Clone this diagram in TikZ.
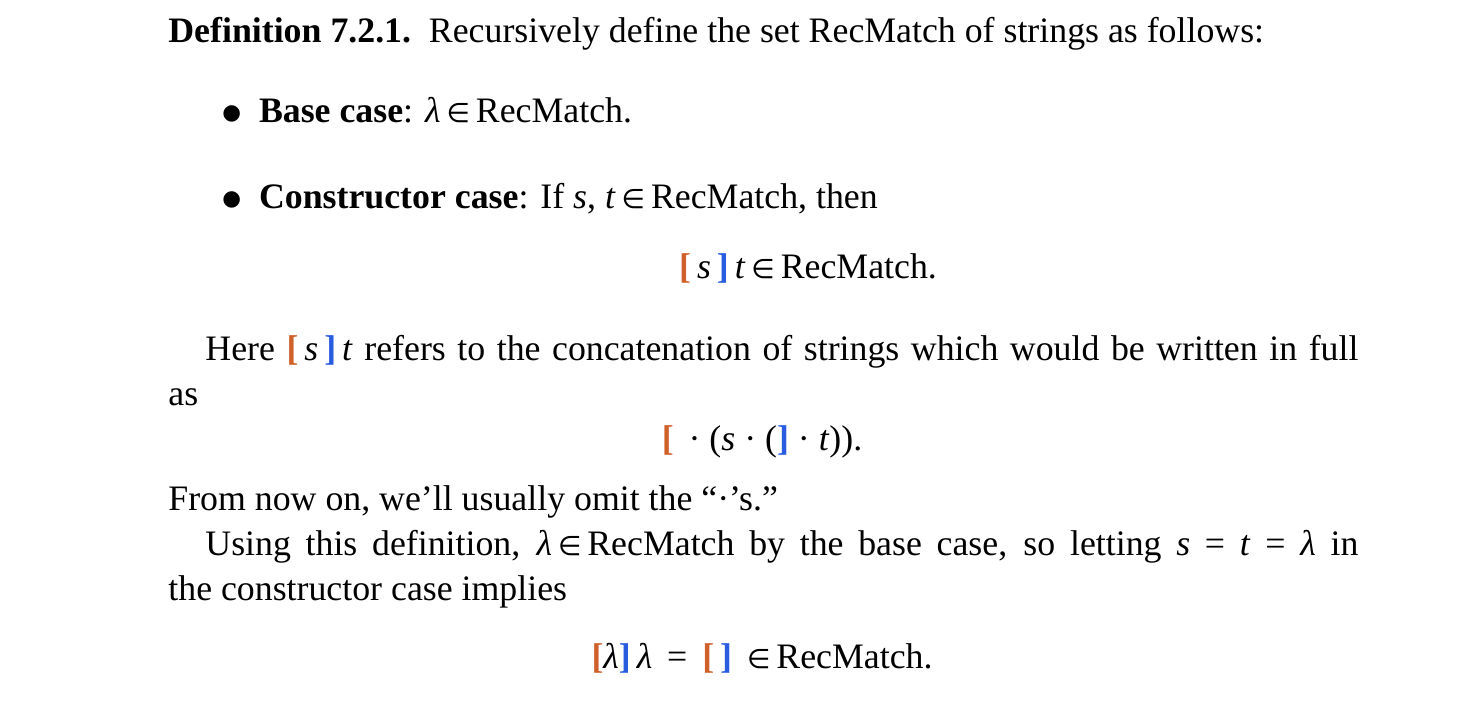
\documentclass[tikz,border=0pt]{standalone}
\usepackage{fontspec}
\setmainfont{Liberation Serif}
\newfontfamily\dvs{DejaVu Sans}
\definecolor{bo}{HTML}{D0602A}
\definecolor{bb}{HTML}{2A5CE0}
\newcommand{\inn}{\,{\dvs\scalebox{0.75}{∈}}\,}
\newcommand{\lb}{\textcolor{bo}{\textbf{[}}}
\newcommand{\rb}{\textcolor{bb}{\textbf{]}}}
\newcommand{\mi}[1]{\textit{#1}}
\newcommand{\bul}{\raisebox{0.15ex}{\dvs\scalebox{0.6}{●}}}
\tikzset{txt/.style={anchor=base west,inner sep=0pt,font=\fontsize{17.9pt}{21pt}\selectfont},
 ctr/.style={anchor=base,inner sep=0pt,font=\fontsize{17.9pt}{21pt}\selectfont}}
\begin{document}
\begin{tikzpicture}[x=0.5pt,y=-0.5pt]
\useasboundingbox (0,0) rectangle (1468,720);
\node[txt] (l1) at (168,42) {\textbf{Definition 7.2.1.}\ \ Recursively define the set RecMatch of strings as follows:};
\node[txt] (b1) at (222,122) {\bul\ \ \textbf{Base case}: \mi{λ}\inn RecMatch.};
\node[txt] (b2) at (222,208) {\bul\ \ \textbf{Constructor case}: If \mi{s}, \mi{t}\inn RecMatch, then};
\node[ctr] (e1) at (808,278) {\lb\,\mi{s}\,\rb\,\mi{t}\inn RecMatch.};
\node[txt] (h1) at (205,360) {\makebox[576.5pt][s]{Here \lb\,\mi{s}\,\rb\,\mi{t} refers to the concatenation of strings which would be written in full}};
\node[txt] (h2) at (168,405) {as};
\node[ctr] (e2) at (762,450) {\lb\ \,· (\mi{s} · (\rb\ · \mi{t})).};
\node[txt] (f1) at (168,510) {From now on, we’ll usually omit the “·’s.”};
\node[txt] (u1) at (205,555) {\makebox[576.5pt][s]{Using this definition, \mi{λ}\inn RecMatch by the base case, so letting \mi{s} = \mi{t} = \mi{λ} in}};
\node[txt] (u2) at (168,600) {the constructor case implies};
\node[ctr] (e3) at (762,668) {\lb\mi{λ}\rb\,\mi{λ}\, =\, \lb\,\rb\ \inn RecMatch.};
\end{tikzpicture}
\end{document}
